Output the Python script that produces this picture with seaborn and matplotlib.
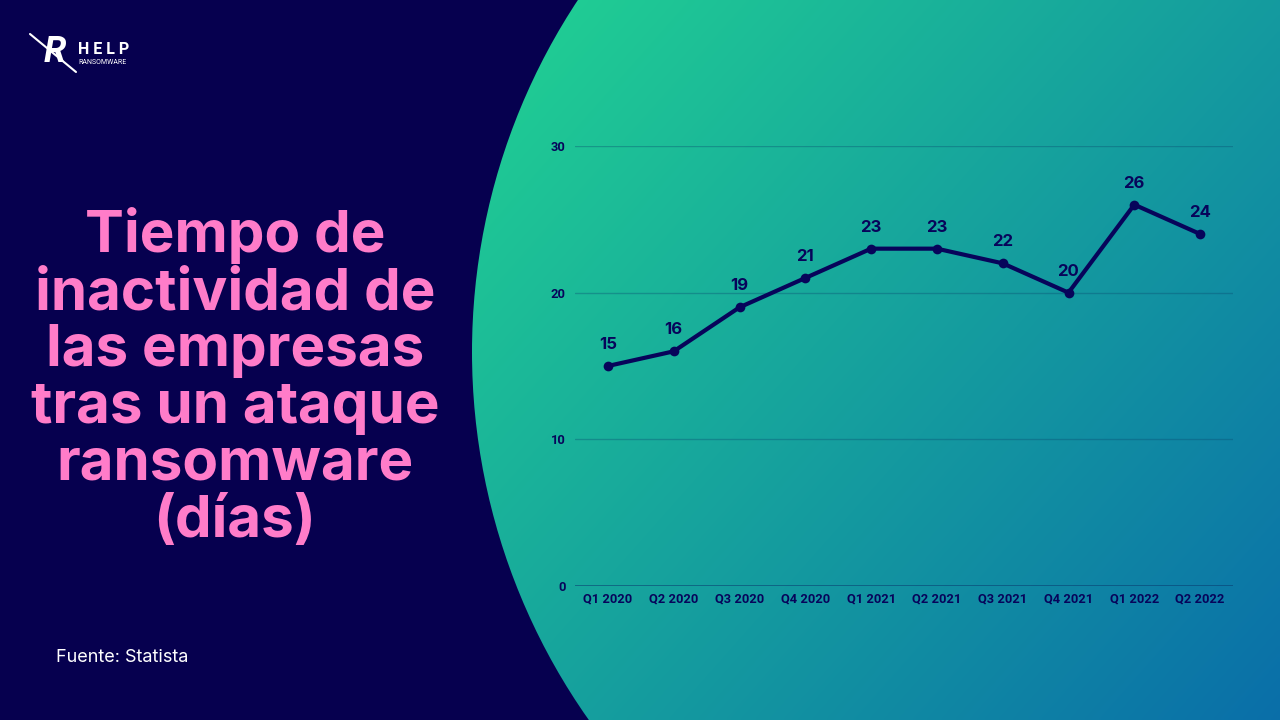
import numpy as np
import pandas as pd
import matplotlib.pyplot as plt
import seaborn as sns
from matplotlib.patches import Circle
from matplotlib.colors import to_rgb

# --- data ---
quarters = ['Q1 2020', 'Q2 2020', 'Q3 2020', 'Q4 2020', 'Q1 2021',
            'Q2 2021', 'Q3 2021', 'Q4 2021', 'Q1 2022', 'Q2 2022']
dias = [15, 16, 19, 21, 23, 23, 22, 20, 26, 24]
y_ticks = [0, 10, 20, 30]

title = 'Tiempo de\ninactividad de\nlas empresas\ntras un ataque\nransomware\n(días)'
source = 'Fuente: Statista'

navy = '#06004f'
pink = '#ff7cc9'
dark = '#07045a'

sns.set_theme(style='white')
plt.rcParams['font.family'] = ['Roboto', 'DejaVu Sans']

fig = plt.figure(figsize=(12.8, 7.2), dpi=100)
fig.patch.set_facecolor(navy)

# --- background: gradient circle on the right ---
bg = fig.add_axes([0, 0, 1, 1])
bg.set_xlim(0, 1280)
bg.set_ylim(720, 0)
bg.axis('off')
yy, xx = np.mgrid[0:720:4, 0:1280:4]
t = ((xx - 500) / 780 * 0.55 + yy / 720 * 0.45).clip(0, 1)
c0 = np.array(to_rgb('#21d193'))
c1 = np.array(to_rgb('#0a6ea9'))
grad = c0[None, None, :] * (1 - t[..., None]) + c1[None, None, :] * t[..., None]
im = bg.imshow(grad, extent=(0, 1280, 720, 0), aspect='auto', interpolation='bilinear')
circ = Circle((1110, 352), 638, transform=bg.transData, facecolor='none', edgecolor='none')
bg.add_patch(circ)
im.set_clip_path(circ)

# title and source
bg.text(235, 378, title, color=pink, fontsize=42, fontweight='bold',
        ha='center', va='center', linespacing=1.07, family=['Inter', 'DejaVu Sans'])
bg.text(56, 657, source, color='white', fontsize=13, ha='left', va='center',
        family=['Inter', 'DejaVu Sans'])

# logo (rough)
bg.plot([30, 76], [34, 72], color='white', lw=1.5)
bg.text(44, 52, 'R', color='white', fontsize=26, fontweight='bold', style='italic',
        ha='left', va='center')
bg.text(78, 49, 'H E L P', color='white', fontsize=11.5, fontweight='bold', ha='left', va='center')
bg.text(78, 62, 'RANSOMWARE', color='white', fontsize=5, ha='left', va='center')

# --- line chart ---
ax = fig.add_axes([575 / 1280, 134 / 720, 658 / 1280, 440 / 720])
ax.patch.set_alpha(0)
df = pd.DataFrame({'quarter': quarters, 'dias': dias})
sns.lineplot(data=df, x='quarter', y='dias', ax=ax, color=dark, lw=3,
             marker='o', markersize=7, markeredgewidth=0, sort=False)
for i, v in enumerate(dias):
    ax.annotate(str(v), (i, v), xytext=(0, 10), textcoords='offset points',
                ha='center', va='bottom', fontsize=12, fontweight='bold', color=dark,
                family=['Inter', 'DejaVu Sans'])

ax.set_xlim(-0.5, len(quarters) - 0.5)
ax.set_ylim(0, 30)
ax.set_yticks(y_ticks)
ax.set_xlabel('')
ax.set_ylabel('')
for s in ax.spines.values():
    s.set_visible(False)
ax.grid(axis='y', color='#0a4a70', alpha=0.35, lw=1)
ax.axhline(0, color='#0a3a70', alpha=0.6, lw=1.2)
ax.tick_params(axis='both', length=0, colors=dark, labelsize=9.3)
ax.tick_params(axis='y', pad=7)
ax.tick_params(axis='x', pad=5)
for lab in ax.get_xticklabels() + ax.get_yticklabels():
    lab.set_fontweight('bold')

fig.savefig('out.png', dpi=100, facecolor=fig.get_facecolor())
